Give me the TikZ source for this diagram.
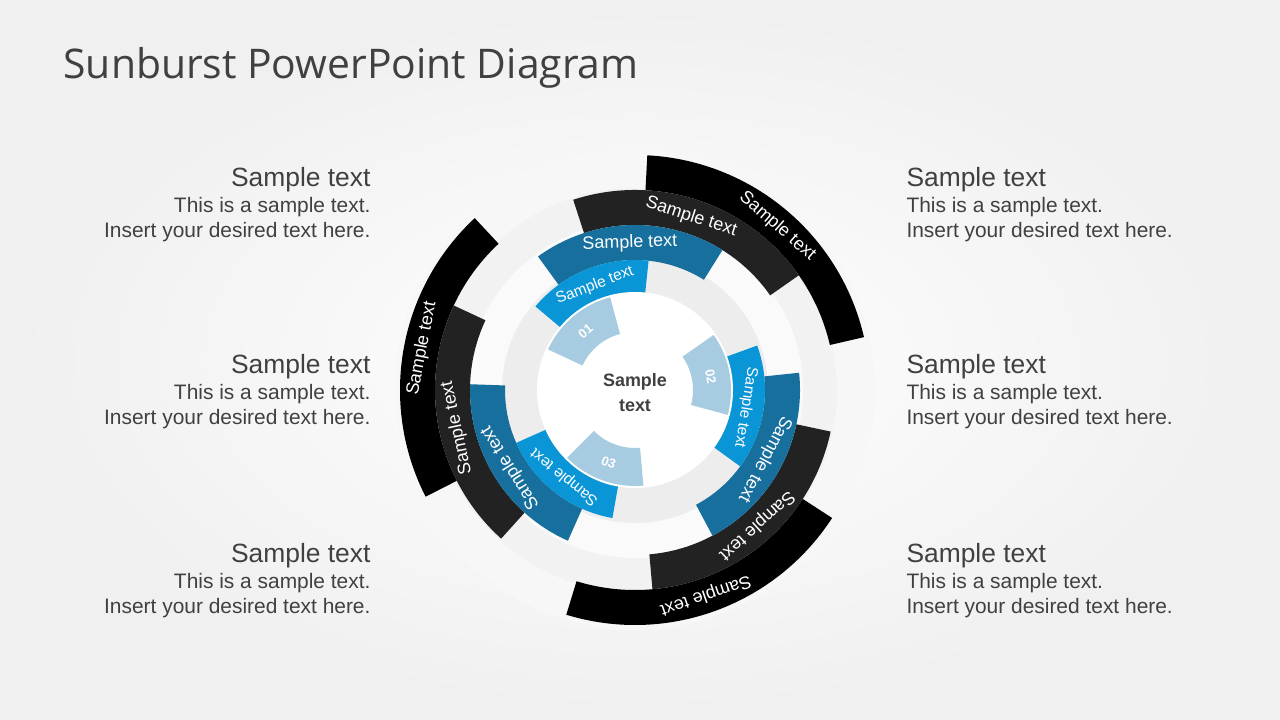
\documentclass[tikz,border=0pt]{standalone}
\usepackage{fontspec}
\setmainfont{Liberation Sans}
\newfontfamily\titlefont{Open Sans}
\definecolor{titlegray}{HTML}{404040}
\definecolor{lightblue}{HTML}{A7CBE0}
\definecolor{brightblue}{HTML}{0A96D6}
\definecolor{midblue}{HTML}{176F9E}
\definecolor{darkring}{HTML}{222222}
\newcommand\ringseg[5]{%
  \fill[#1] (#2:#4) arc[start angle=#2,end angle=#3,radius=#4]
    -- (#3:#5) arc[start angle=#3,end angle=#2,radius=#5] -- cycle;}
\tikzset{
  ringlabel/.style={text=white,inner sep=0pt,font=\fontsize{18}{20}\selectfont},
  numlabel/.style={text=white,inner sep=0pt,font=\bfseries\fontsize{13}{15}\selectfont},
  headtext/.style={text=titlegray,font=\fontsize{26.5}{30}\selectfont},
  bodytext/.style={text=titlegray,font=\fontsize{21}{25}\selectfont}
}
\begin{document}
\begin{tikzpicture}[x=1bp,y=1bp]
  \shade[inner color=white,outer color=gray!12] (0,0) rectangle (1280,720);
  \useasboundingbox (0,0) rectangle (1280,720);
  \node[anchor=west,text=titlegray,font=\titlefont\fontsize{41}{46}\selectfont] (title) at (60,652) {Sunburst PowerPoint Diagram};

  % Rings
  \begin{scope}[shift={(635,330)}]
    \fill[gray!6] (0,0) circle (240);
    \fill[gray!10] (0,0) circle (202);
    \fill[gray!4] (0,0) circle (168);
    \fill[gray!14] (0,0) circle (133);
    \foreach \g in {0,-120,120}{
      \ringseg{black}{\g+13}{\g+87}{200}{235}
      \ringseg{darkring}{\g+35}{\g+108}{165}{200}
      \ringseg{midblue}{\g+58}{\g+126}{130}{165}
      \ringseg{brightblue}{\g+84}{\g+140}{95}{130}
    }
    \fill[white] (0,0) circle (98);
    \foreach \g/\n/\nr in {0/01/40,-120/02/-80,120/03/-20}{
      \ringseg{lightblue}{\g+105}{\g+155}{58}{96}
      \node[numlabel,rotate=\nr] (num\n) at ({\g+130}:77) {\n};
      \node[ringlabel,font=\fontsize{15.5}{17}\selectfont,rotate=\g+21] (bright\n) at ({\g+111}:112) {Sample text};
      \node[ringlabel,rotate=\g+2] (mid\n) at ({\g+92}:147) {Sample text};
      \node[ringlabel,rotate=\g-18] (dark\n) at ({\g+72}:182) {Sample text};
      \node[ringlabel,rotate=\g-41] (black\n) at ({\g+49}:217) {Sample text};
    }
    \node[align=center,text=titlegray,font=\bfseries\fontsize{18}{25}\selectfont] (center) at (0,-3) {Sample\\text};
  \end{scope}

  % Side texts
  \foreach \y/\k in {540/a,353/b,164/c}{
    \node[headtext,anchor=east] (lhead\k) at (374,\y) {Sample text};
    \node[bodytext,anchor=north east,align=right] (lbody\k) at (374,\y-14) {This is a sample text.\\Insert your desired text here.};
    \node[headtext,anchor=west] (rhead\k) at (903,\y) {Sample text};
    \node[bodytext,anchor=north west,align=left] (rbody\k) at (903,\y-14) {This is a sample text.\\Insert your desired text here.};
  }
\end{tikzpicture}
\end{document}
